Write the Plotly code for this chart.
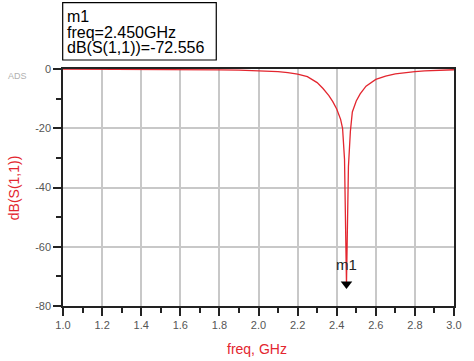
import plotly.graph_objects as go

# Data (freq in GHz, S11 in dB)
freq_ghz = [1.0, 1.1, 1.2, 1.3, 1.4, 1.5, 1.6, 1.7, 1.8, 1.9, 2.0, 2.05, 2.1, 2.15,
            2.2, 2.25, 2.3, 2.33, 2.36, 2.38, 2.40, 2.42, 2.43, 2.44, 2.45, 2.46,
            2.47, 2.48, 2.50, 2.52, 2.55, 2.60, 2.65, 2.70, 2.75, 2.80, 2.85, 2.90,
            2.95, 3.0]
s11_db = [-0.05, -0.05, -0.06, -0.07, -0.08, -0.1, -0.12, -0.15, -0.3, -0.4, -0.55,
          -0.7, -0.9, -1.2, -1.7, -2.6, -4.6, -6.6, -9.0, -11.0, -13.5, -17.0,
          -20.0, -30.5, -72.556, -33.0, -21.0, -14.5, -10.8, -8.4, -5.8, -3.5,
          -2.4, -1.65, -1.2, -0.9, -0.65, -0.48, -0.33, -0.25]

marker_name = "m1"
marker_freq = 2.45
marker_db = -72.556
marker_lines = ["m1", "freq=2.450GHz", "dB(S(1,1))=-72.556"]

x_ticks = [1.0, 1.2, 1.4, 1.6, 1.8, 2.0, 2.2, 2.4, 2.6, 2.8, 3.0]
y_ticks = [0, -20, -40, -60, -80]

RED = "#e3262f"
FONT = "Liberation Sans, Arial, sans-serif"

fig = go.Figure()
fig.add_trace(go.Scatter(x=freq_ghz, y=s11_db, mode="lines",
                         line=dict(color=RED, width=1.3), hoverinfo="skip"))
fig.add_trace(go.Scatter(x=[marker_freq], y=[marker_db], mode="markers",
                         marker=dict(symbol="triangle-down", size=10, color="black"),
                         hoverinfo="skip"))

axis_common = dict(showline=True, mirror=True, linecolor="#222222", linewidth=1.5,
                   showgrid=True, gridcolor="#c8c8c8", gridwidth=1.5,
                   zeroline=False, ticks="outside", tickcolor="#222222",
                   tickwidth=1.5, ticklen=8, layer="below traces",
                   tickfont=dict(family=FONT, size=11, color="#555555"))

fig.update_xaxes(range=[1.0, 3.0], tickmode="array", tickvals=x_ticks,
                 ticktext=[f"{v:.1f}" for v in x_ticks],
                 minor=dict(dtick=0.1, tick0=1.0, ticks="outside", ticklen=5,
                            tickwidth=1.5, tickcolor="#222222", showgrid=False),
                 **axis_common)
fig.update_yaxes(range=[-80, 0], tickmode="array", tickvals=y_ticks,
                 ticktext=[str(v) for v in y_ticks],
                 minor=dict(dtick=10, tick0=0, ticks="outside", ticklen=5,
                            tickwidth=1.5, tickcolor="#222222", showgrid=False),
                 **axis_common)

annotations = [
    dict(text="freq, GHz", x=0.496, y=-0.181, xref="paper", yref="paper",
         showarrow=False, xanchor="center", yanchor="middle",
         font=dict(family=FONT, size=14, color=RED)),
    dict(text="dB(S(1,1))", x=-0.1247, y=0.498, xref="paper", yref="paper",
         showarrow=False, textangle=-90, xanchor="center", yanchor="middle",
         font=dict(family=FONT, size=14, color=RED)),
    dict(text="ADS", x=-0.117, y=0.970, xref="paper", yref="paper",
         showarrow=False, xanchor="center", yanchor="middle",
         font=dict(family=FONT, size=9, color="#b0b0b0")),
    dict(text=marker_name, x=marker_freq, y=marker_db, xref="x", yref="y",
         showarrow=False, yshift=19, xanchor="center", yanchor="middle",
         font=dict(family=FONT, size=15, color="#222222")),
]
line_y = [1.2228, 1.1527, 1.0907]
for txt, yy in zip(marker_lines, line_y):
    annotations.append(dict(text=txt, x=0.0051, y=yy, xref="paper", yref="paper",
                            showarrow=False, xanchor="left", yanchor="middle",
                            font=dict(family=FONT, size=16, color="black")))

fig.update_layout(
    width=474, height=361,
    margin=dict(l=63, r=18, t=69, b=55),
    paper_bgcolor="white", plot_bgcolor="white",
    showlegend=False,
    annotations=annotations,
    shapes=[dict(type="rect", xref="paper", yref="paper",
                 x0=-0.0008, x1=0.392, y0=1.038, y1=1.2797,
                 line=dict(color="black", width=1.2), fillcolor="rgba(0,0,0,0)")],
)

fig.write_html("out.html", config={"displayModeBar": False},
               post_script="document.body.style.margin='0';document.body.style.padding='0';")
